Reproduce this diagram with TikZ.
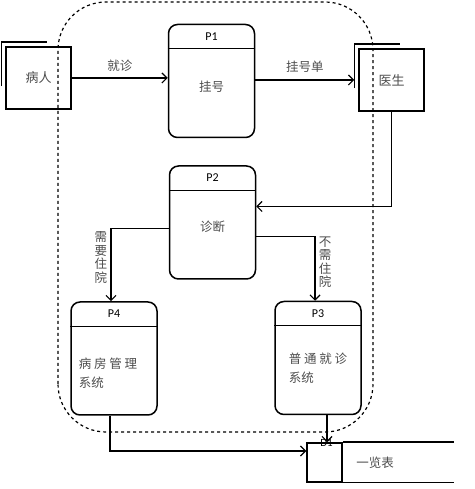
\documentclass[tikz,border=0pt]{standalone}
\usepackage{fontspec}
\setmainfont{Carlito}
\newfontfamily\cjk{Noto Sans CJK SC}
\usetikzlibrary{arrows.meta,positioning}

\begin{document}
\begin{tikzpicture}[x=1pt,y=1pt,>={Straight Barb[length=5pt,width=10pt]},
        proc/.style={draw,line width=1.5pt,rounded corners=9pt,minimum width=86pt,minimum height=113pt},
        ent/.style={draw,line width=1.5pt,minimum width=65pt,minimum height=62pt,font=\cjk\fontsize{13}{15}\selectfont,text=black!70},
        lbl/.style={font=\cjk\fontsize{12.5}{19}\selectfont,text=black!70},
        vlbl/.style={font=\cjk\fontsize{12.5}{13.5}\selectfont,text=black!70,align=center},
        flow/.style={->,line width=1.2pt}]
    \useasboundingbox (0,0) rectangle (474,489);
    % system boundary
    \draw[dashed,line width=1.2pt,rounded corners=48pt] (58,57) rectangle (373,487);
    % external entities
    \node[ent] (pat) at (38.5,411) {病人};
    \node[ent] (doc) at (391.5,409) {医生};
    \foreach \e in {pat,doc}
        \draw[line width=1.5pt] ([shift={(-4,-40)}]\e.north west) |- ([shift={(42,4)}]\e.north west);
    % processes
    \node[proc] (p1) at (211.5,408) {};
    \node[proc] (p2) at (212.5,266.5) {};
    \node[proc] (p4) at (114,130.5) {};
    \node[proc] (p3) at (318,131) {};
    \foreach \p/\n in {p1/P1,p2/P2,p3/P3,p4/P4} {
        \draw[line width=1.2pt] ([yshift=-25pt]\p.north west) -- ([yshift=-25pt]\p.north east);
        \node[font=\fontsize{12}{14}\selectfont] (\p-id) at ([yshift=-12.5pt]\p.north) {\n};
    }
    \node[lbl] (p1-txt) at ([yshift=-6pt]p1.center) {挂号};
    \node[lbl] (p2-txt) at ([yshift=-4.5pt]p2.center) {诊断};
    \node[lbl,align=left,anchor=west] (p4-txt) at ([shift={(5pt,-15pt)}]p4.west) {病 房 管 理\\系统};
    \node[lbl,align=left,anchor=west] (p3-txt) at ([shift={(11pt,-10.5pt)}]p3.west) {普 通 就 诊\\系统};
    % data store
    \node[draw,line width=1.5pt,minimum width=35pt,minimum height=39pt] (ds) at (324.5,26.5) {};
    \draw[line width=1.5pt] (ds.north east) -- ++(111,0) (ds.south east) -- ++(111,0);
    \node[font=\fontsize{11}{13}\selectfont] (ds-id) at ([xshift=2pt,yshift=-1pt]ds.north) {D1};
    \node[lbl] (ds-txt) at ([xshift=50.5pt]ds.center) {一览表};
    % data flows
    \draw[flow] (pat.east) -- (pat.east -| p1.west) node[lbl,midway,above,yshift=3pt] {就诊};
    \draw[flow] (p1.east |- doc.west) -- ([xshift=-4pt]doc.west) node[lbl,midway,above,yshift=4pt] {挂号单};
    \draw[flow] (doc.south) |- ([yshift=16pt]p2.east);
    \draw[flow] ([yshift=-14pt]p2.east) -| ([xshift=-3pt]p3.north) node[vlbl,pos=0.7,right] {不\\需\\住\\院};
    \draw[flow] ([yshift=-6pt]p2.west) -| ([xshift=-3pt]p4.north) node[vlbl,pos=0.7,left] {需\\要\\住\\院};
    \draw[flow] ([xshift=9pt]p3.south) -- ([xshift=9pt]p3.south |- ds.north);
    \draw[flow] ([xshift=-4pt]p4.south) |- ([yshift=11.5pt]ds.west);
\end{tikzpicture}
\end{document}
